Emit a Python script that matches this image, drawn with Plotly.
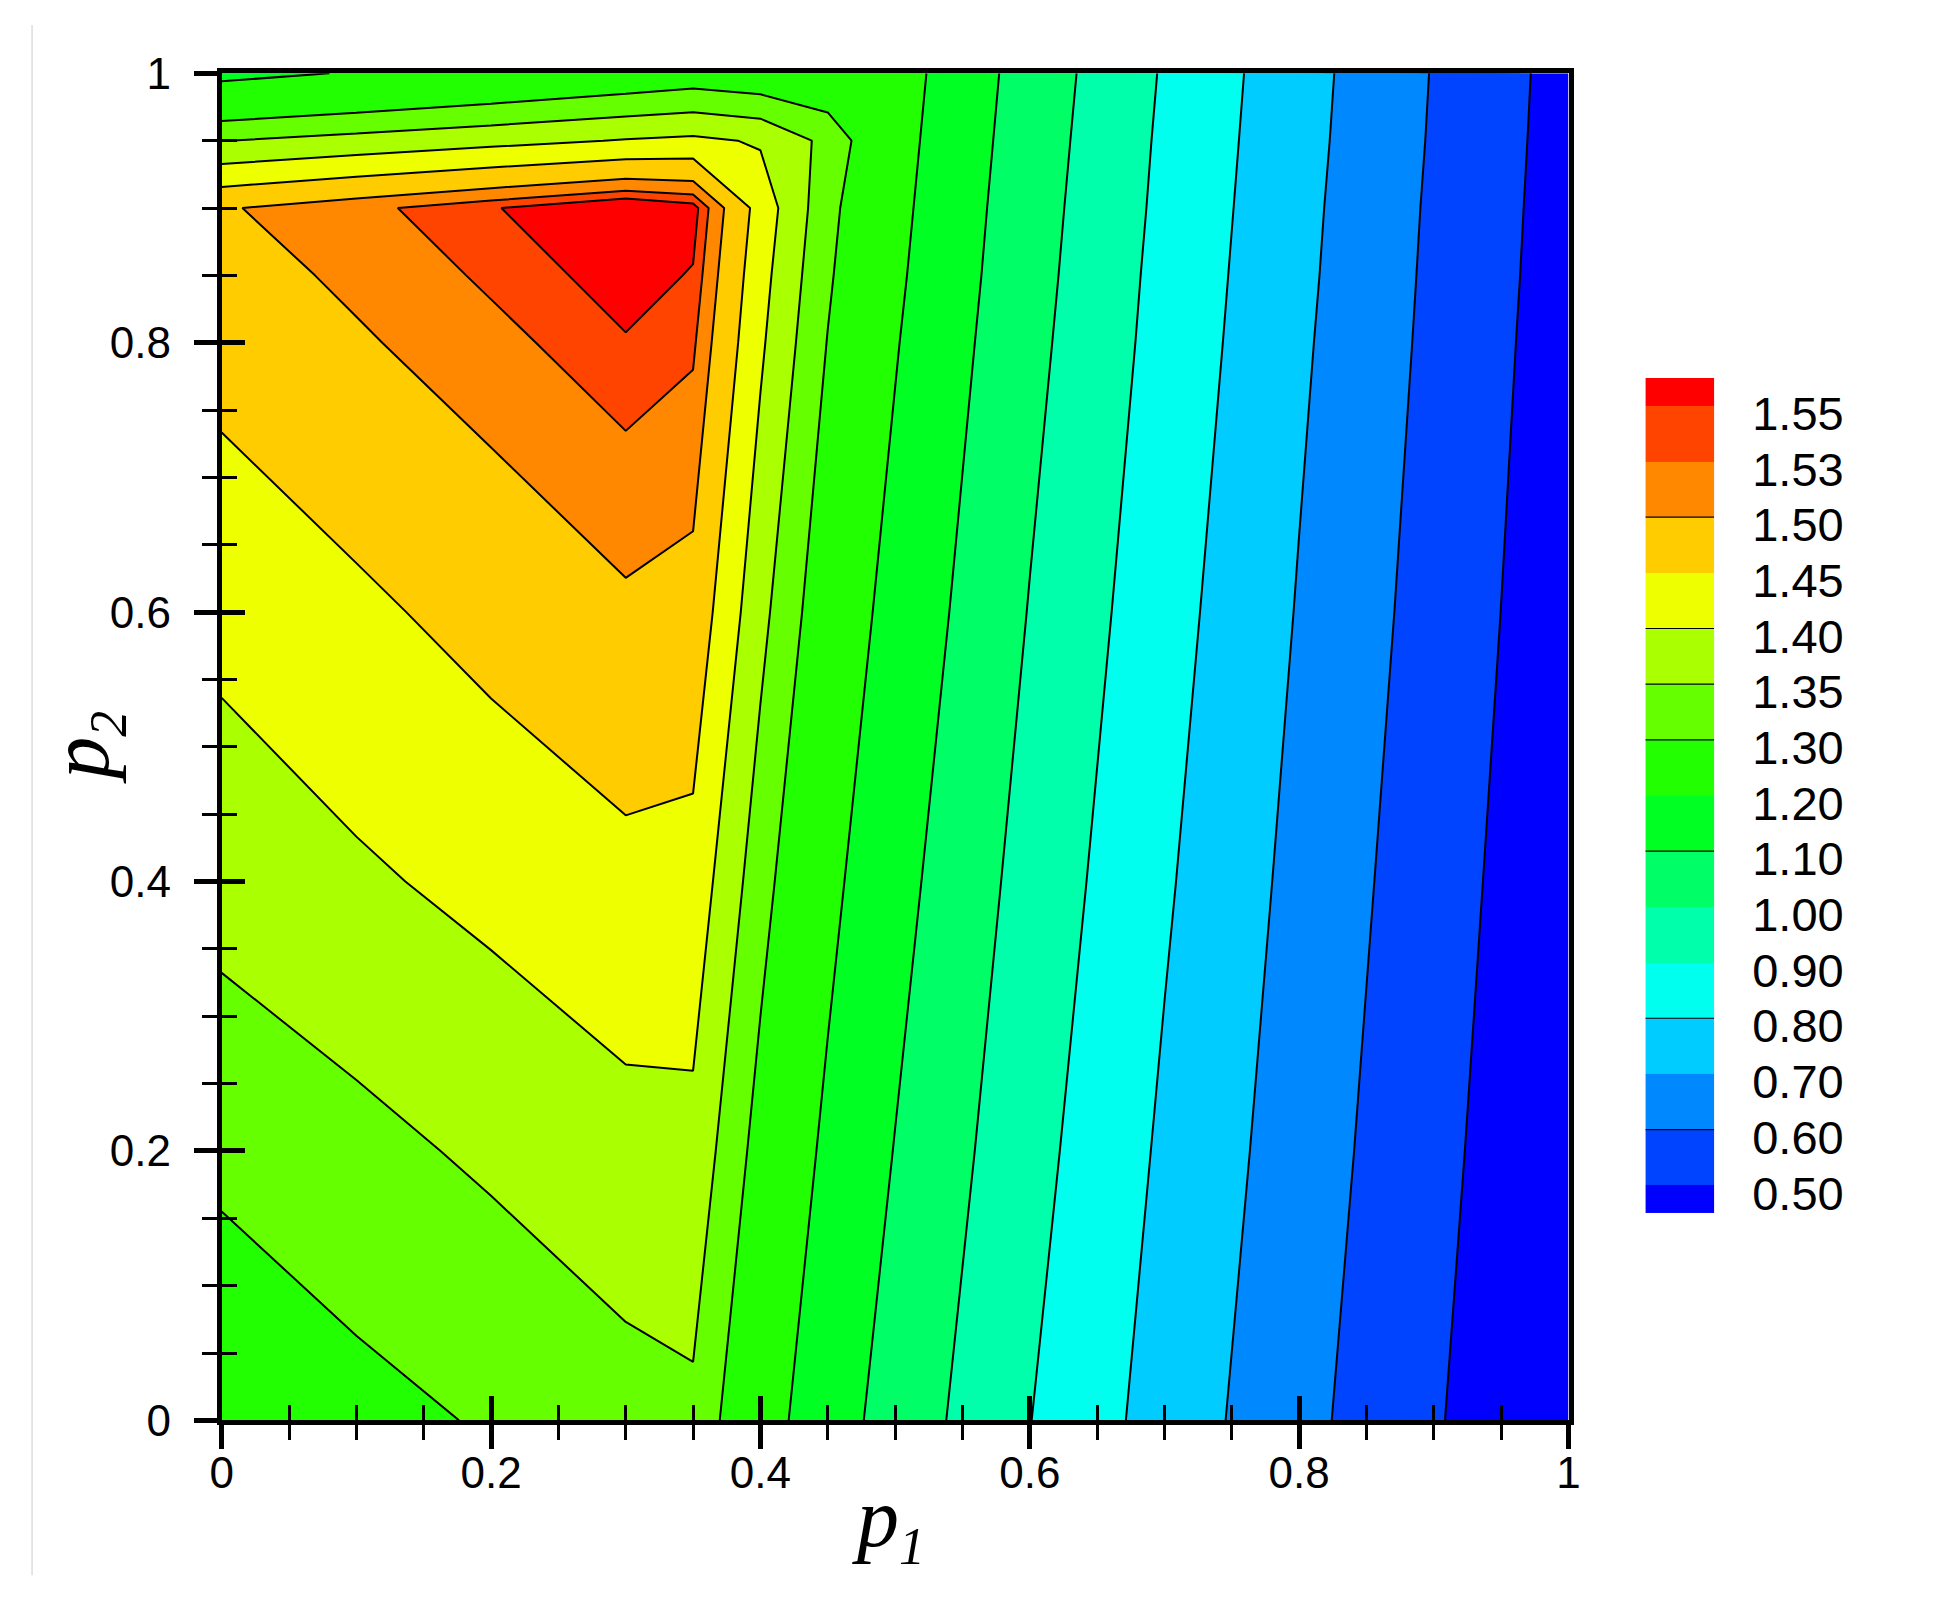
import plotly.graph_objects as go

# ---------------- data ----------------
p1 = [0.0, 0.1, 0.2, 0.3, 0.35, 0.4, 0.45, 0.5, 0.6, 0.7, 0.8, 0.9, 1.0]
p2 = [0.0, 0.2, 0.4, 0.6, 0.8, 0.85, 0.9, 0.95, 1.0]

z_p2_000 = [1.262, 1.284, 1.305, 1.331, 1.340, 1.239, 1.146, 1.060, 0.902, 0.759, 0.629, 0.509, 0.400]
z_p2_020 = [1.311, 1.335, 1.359, 1.383, 1.386, 1.279, 1.184, 1.097, 0.933, 0.785, 0.651, 0.526, 0.413]
z_p2_040 = [1.370, 1.392, 1.414, 1.436, 1.433, 1.321, 1.222, 1.133, 0.964, 0.812, 0.672, 0.543, 0.425]
z_p2_060 = [1.414, 1.440, 1.467, 1.493, 1.485, 1.365, 1.260, 1.170, 0.996, 0.838, 0.694, 0.561, 0.438]
z_p2_080 = [1.468, 1.495, 1.521, 1.548, 1.535, 1.408, 1.298, 1.206, 1.027, 0.865, 0.715, 0.578, 0.450]
z_p2_085 = [1.482, 1.508, 1.535, 1.561, 1.548, 1.418, 1.308, 1.216, 1.035, 0.871, 0.721, 0.582, 0.454]
z_p2_090 = [1.496, 1.522, 1.548, 1.574, 1.560, 1.430, 1.317, 1.225, 1.042, 0.878, 0.726, 0.586, 0.457]
z_p2_095 = [1.349, 1.367, 1.385, 1.403, 1.410, 1.395, 1.336, 1.234, 1.050, 0.884, 0.732, 0.591, 0.460]
z_p2_100 = [1.180, 1.205, 1.230, 1.255, 1.268, 1.257, 1.250, 1.243, 1.058, 0.891, 0.737, 0.595, 0.463]

levels = [0.50, 0.60, 0.70, 0.80, 0.90, 1.00, 1.10, 1.20, 1.30, 1.35, 1.40, 1.45, 1.50, 1.53, 1.55]
level_labels = ["0.50", "0.60", "0.70", "0.80", "0.90", "1.00", "1.10", "1.20",
                "1.30", "1.35", "1.40", "1.45", "1.50", "1.53", "1.55"]
band_colors = ["#0000FF", "#0044FF", "#0088FF", "#00CCFF", "#00FFEE", "#00FFAA",
               "#00FF66", "#00FF22", "#22FF00", "#66FF00", "#AAFF00", "#EEFF00",
               "#FFCC00", "#FF8800", "#FF4400", "#FF0000"]
legend_separators = [0.60, 0.80, 1.10, 1.30, 1.35, 1.40, 1.50]

tick_vals = [0, 0.2, 0.4, 0.6, 0.8, 1.0]
tick_text = ["0", "0.2", "0.4", "0.6", "0.8", "1"]

z = [z_p2_000, z_p2_020, z_p2_040, z_p2_060, z_p2_080, z_p2_085, z_p2_090, z_p2_095, z_p2_100]

# ---------------- layout geometry ----------------
W, H = 1942, 1606
# page pixel -> picture pixel relation observed for this viewer
SX, OX = 0.9896, 10.4
SY, OY = 0.9716, 22.3


def fx(px):            # picture x -> paper fraction
    return ((px - OX) / SX) / W


def fy(py):            # picture y -> paper fraction (from bottom)
    return 1 - ((py - OY) / SY) / H


PX_L, PX_R, PX_T, PX_B = 220.5, 1570, 70.7, 1420.7
CB_L, CB_R, CB_T, CB_B = 1647, 1716, 376, 1213

TICK_FONT = dict(family="Liberation Sans, Arial, sans-serif", size=44, color="black")
KEY_FONT = dict(family="Liberation Sans, Arial, sans-serif", size=47, color="black")
TITLE_FONT = dict(family="Liberation Serif, Times New Roman, serif", size=84, color="black")

step = 0.01
lo = levels[0] - step / 2
hi = levels[-1] + step / 2
fill_scale = [[0.0, band_colors[0]]]
for i, L in enumerate(levels):
    p = (L - lo) / (hi - lo)
    fill_scale.append([p, band_colors[i]])
    fill_scale.append([p, band_colors[i + 1]])
fill_scale.append([1.0, band_colors[-1]])

fig = go.Figure()

# filled bands
fig.add_trace(go.Contour(
    x=p1, y=p2, z=z, autocontour=False,
    contours=dict(start=levels[0], end=levels[-1], size=step, coloring="fill", showlines=False),
    line=dict(width=0, smoothing=0), colorscale=fill_scale, showscale=False, hoverinfo="skip",
))

# black iso-lines at the (non-uniform) levels
for L in levels:
    fig.add_trace(go.Contour(
        x=p1, y=p2, z=z, autocontour=False,
        contours=dict(start=L, end=L, size=step, coloring="none"),
        line=dict(color="black", width=2, smoothing=0), showscale=False, hoverinfo="skip",
        xaxis="x3", yaxis="y3",
    ))

# colour key
n_b = len(band_colors)
key_edges = [-0.5] + list(range(len(levels))) + [len(levels) - 0.5]
fig.add_trace(go.Heatmap(
    x=[0, 1], y=key_edges, z=[[i] for i in range(n_b)],
    colorscale=[[i / (n_b - 1), c] for i, c in enumerate(band_colors)],
    zmin=0, zmax=n_b - 1, showscale=False, hoverinfo="skip",
    xaxis="x2", yaxis="y2",
))

shapes = []
for L in legend_separators:
    idx = levels.index(L)
    shapes.append(dict(type="line", xref="x2", yref="y2", x0=0, x1=1, y0=idx, y1=idx,
                       line=dict(color="black", width=1.2)))
# faint page rule at the far left of the picture
shapes.append(dict(type="line", xref="paper", yref="paper", x0=fx(30.5), x1=fx(30.5),
                   y0=fy(1576), y1=1.0, line=dict(color="#dddddd", width=1.5)))

xdom = [fx(PX_L), fx(PX_R)]
ydom = [fy(PX_B), fy(PX_T)]


def main_axis(domain, anchor, standoff, tlen):
    return dict(domain=domain, anchor=anchor, ticks="outside", ticklen=tlen, tickwidth=5,
                tickcolor="black", showline=True, linewidth=5, linecolor="black", mirror=True,
                tickmode="array", tickvals=tick_vals, ticktext=tick_text,
                tickfont=TICK_FONT, ticklabelstandoff=standoff,
                minor=dict(ticks="outside", ticklen=15, tickwidth=3, tickcolor="black",
                           tick0=0, dtick=0.05, showgrid=False),
                range=[0, 1], showgrid=False, zeroline=False)


def inner_axis(over, anchor, tlen):
    return dict(overlaying=over, anchor=anchor, ticks="inside", ticklen=tlen, tickwidth=5,
                tickcolor="black", showticklabels=False, showline=False,
                tickmode="array", tickvals=tick_vals,
                minor=dict(ticks="inside", ticklen=15, tickwidth=3, tickcolor="black",
                           tick0=0, dtick=0.05, showgrid=False),
                range=[0, 1], showgrid=False, zeroline=False)


fig.update_layout(
    width=W, height=H, margin=dict(l=0, r=0, t=0, b=0),
    paper_bgcolor="white", plot_bgcolor="white", showlegend=False,
    xaxis=main_axis(xdom, "y", -14, 24),
    yaxis=main_axis(ydom, "x", 14, 23),
    xaxis3=inner_axis("x", "y3", 24),
    yaxis3=inner_axis("y", "x3", 23),
    xaxis2=dict(domain=[fx(CB_L), fx(CB_R)], anchor="y2", range=[0, 1], visible=False),
    yaxis2=dict(domain=[fy(CB_B), fy(CB_T)], anchor="x2",
                range=[-0.5, len(levels) - 0.5], side="right",
                tickmode="array", tickvals=[i - 0.14 for i in range(len(levels))],
                ticktext=level_labels, ticks="", showline=False, showgrid=False, zeroline=False,
                tickfont=KEY_FONT, ticklabelstandoff=37),
    shapes=shapes,
    annotations=[
        dict(text="<i>p</i><sub><i><span style='font-size:52px'>1</span></i></sub>",
             xref="x domain", yref="paper", x=0.4953, y=fy(1524),
             xanchor="center", yanchor="middle", showarrow=False, font=TITLE_FONT),
        dict(text="<i>p</i><sub><i><span style='font-size:52px'>2</span></i></sub>",
             xref="paper", yref="y domain", x=fx(83.5), y=0.5, textangle=-90,
             xanchor="center", yanchor="middle", showarrow=False, font=TITLE_FONT),
    ],
)

fig.write_html("out.html", config={"displayModeBar": False},
               post_script="document.body.style.margin='0px';document.body.style.overflow='hidden';")
